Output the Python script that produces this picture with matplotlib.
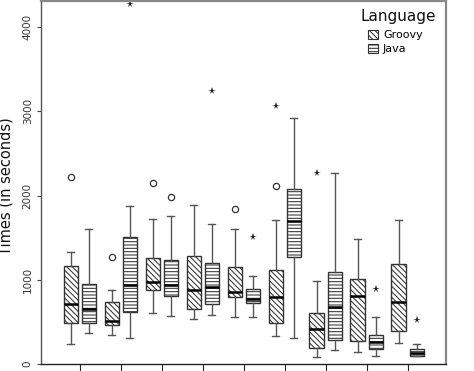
import numpy as np
import matplotlib.pyplot as plt
from matplotlib.patches import Patch

plt.rcParams['hatch.linewidth'] = 0.75
plt.rcParams['hatch.color'] = '#333333'

# nine test groups (labels fall below the visible area)
positions = np.arange(1, 10)

groovy_whislo = [238, 341, 610, 531, 562, 333, 83, 146, 246]
groovy_q1 = [491, 460, 879, 657, 792, 483, 186, 273, 392]
groovy_med = [709, 507, 978, 879, 859, 800, 412, 808, 740]
groovy_q3 = [1164, 737, 1256, 1283, 1156, 1117, 610, 1006, 1184]
groovy_whishi = [1327, 883, 1723, 1893, 1607, 1707, 986, 1489, 1711]
groovy_circles = [[2218], [1271], [2150], [], [1838], [2115], [], [], []]
groovy_stars = [[], [], [], [], [], [3065], [2265], [], []]

java_whislo = [372, 305, 570, 578, 562, 305, 170, 95, 92]
java_q1 = [483, 621, 808, 713, 721, 1275, 285, 174, 95]
java_med = [657, 938, 938, 918, 776, 1703, 681, 258, 134]
java_q3 = [954, 1509, 1232, 1200, 895, 2083, 1093, 341, 174]
java_whishi = [1607, 1881, 1758, 1663, 1045, 2919, 2265, 558, 241]
java_circles = [[], [], [1984], [], [], [], [], [], []]
java_stars = [[], [4280], [], [3247], [1512], [], [], [895], [523]]

fig = plt.figure(figsize=(4.74, 3.71), dpi=100)
ax = fig.add_axes([41 / 474, 7 / 371, 405 / 474, 363 / 371])

offset = 0.22
width = 0.36


def draw(whislo, q1, med, q3, whishi, circles, stars, shift, hatch):
    stats = []
    for i in range(len(positions)):
        stats.append(dict(whislo=whislo[i], q1=q1[i], med=med[i], q3=q3[i],
                          whishi=whishi[i], fliers=[]))
    pos = positions + shift
    res = ax.bxp(stats, positions=pos, widths=width, capwidths=0.17,
                 showfliers=False, patch_artist=True, manage_ticks=False,
                 boxprops=dict(facecolor='white', edgecolor='#333333', linewidth=1.0),
                 whiskerprops=dict(color='#555555', linewidth=1.0),
                 capprops=dict(color='#555555', linewidth=1.0),
                 medianprops=dict(color='black', linewidth=1.8))
    for b in res['boxes']:
        b.set_hatch(hatch)
        b.set_zorder(2)
    for p, vals in zip(pos, circles):
        if vals:
            ax.plot([p] * len(vals), vals, 'o', mfc='none', mec='#333333',
                    ms=4.5, mew=0.9)
    for p, vals in zip(pos, stars):
        if vals:
            ax.plot([p] * len(vals), vals, '*', color='#222222', ms=5.5, mew=0)


draw(groovy_whislo, groovy_q1, groovy_med, groovy_q3, groovy_whishi,
     groovy_circles, groovy_stars, -offset, '\\' * 6)
draw(java_whislo, java_q1, java_med, java_q3, java_whishi,
     java_circles, java_stars, offset, '-' * 5)

ax.set_xlim(0.05, 9.93)
ax.set_ylim(0, 4310)
ax.set_xticks(positions)
ax.set_xticklabels([''] * len(positions))
ax.set_yticks([0, 1000, 2000, 3000, 4000])
ax.set_yticklabels(['0', '1000', '2000', '3000', '4000'], rotation=90,
                   va='center', fontsize=7.5, color='#333333')
ax.tick_params(axis='y', length=3, pad=3, color='#444444')
ax.tick_params(axis='x', length=7, color='#222222')

for s in ['top', 'right']:
    ax.spines[s].set_color('#888888')
    ax.spines[s].set_linewidth(1.6)
for s in ['left', 'bottom']:
    ax.spines[s].set_color('#555555')
    ax.spines[s].set_linewidth(1.0)
ax.spines['bottom'].set_color('#222222')

fig.text(6 / 474, 1 - 186 / 371, 'Times (in seconds)', rotation=90,
         ha='center', va='center', fontsize=10.5, color='#111111')

fig.text(398 / 474, 1 - 17 / 371, 'Language', ha='center', va='center',
         fontsize=11, color='#111111')
handles = [Patch(facecolor='white', edgecolor='#333333', hatch='\\' * 6, lw=0.8),
           Patch(facecolor='white', edgecolor='#333333', hatch='-' * 5, lw=0.8)]
fig.legend(handles, ['Groovy', 'Java'], loc='upper left',
           bbox_to_anchor=(368 / 474, 1 - 30 / 371), frameon=False,
           fontsize=8, handlelength=0.9, handleheight=0.9, handletextpad=0.45,
           labelspacing=0.3, borderpad=0, borderaxespad=0)

plt.savefig('out.png', dpi=100)
